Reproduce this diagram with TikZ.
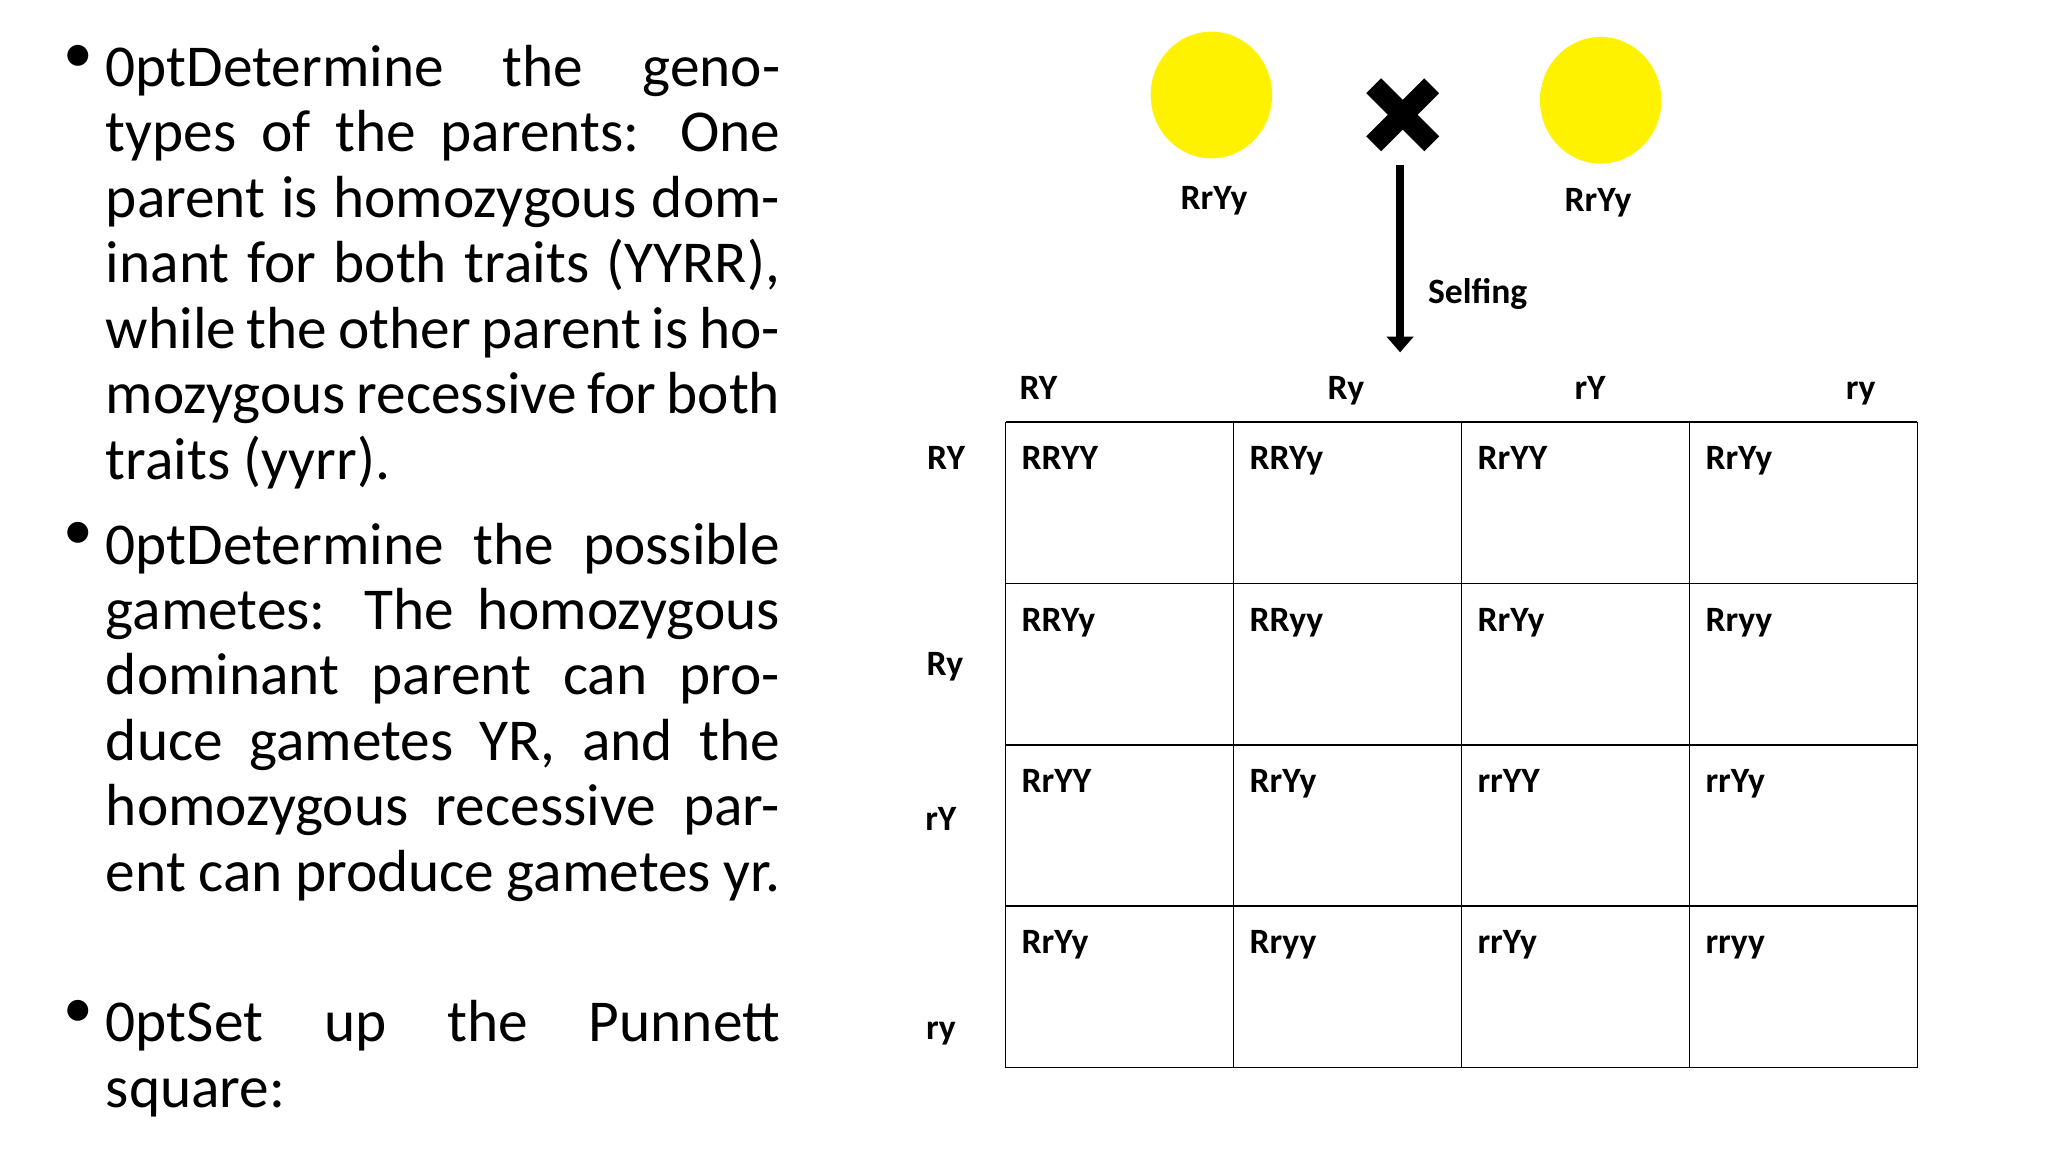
\documentclass[tikz,border=0pt]{standalone}
\usepackage{fontspec}
\setmainfont{Carlito}
\usetikzlibrary{shapes.geometric,arrows.meta}
\begin{document}
\begin{tikzpicture}[x=1pt,y=-1pt,
  body/.style={anchor=north west,inner sep=0pt,text width=511pt,align=justify,font=\fontsize{45}{49.6}\selectfont\hyphenpenalty=10000\exhyphenpenalty=10000\tolerance=9999\emergencystretch=200pt},
  bul/.style={anchor=north west,inner sep=0pt,font=\fontsize{45}{49.6}\selectfont},
  lab/.style={font=\fontsize{27}{30}\selectfont\bfseries,inner sep=0pt,anchor=base},
  cell/.style={lab,anchor=base west}]
\useasboundingbox[fill=white] (0,0) rectangle (1552,873);
% text
\node[body] (p1) at (80,34) {Determine the genotypes of the parents: One parent is homozygous dominant for both traits (YYRR), while the other parent is homozygous recessive for both traits (yyrr).};
\node[bul] (b1) at (48,34) {•};
\node[body] (p2) at (80,396) {Determine the possible gametes: The homozygous dominant parent can produce gametes YR, and the homozygous recessive parent can produce gametes yr.};
\node[bul] (b2) at (48,396) {•};
\node[body] (p3) at (80,758) {Set up the Punnett square:};
\node[bul] (b3) at (48,758) {•};
% parents
\node[fill=yellow,ellipse,minimum width=92pt,minimum height=96pt,inner sep=0pt] (c1) at (918,72) {};
\node[fill=yellow,ellipse,minimum width=92pt,minimum height=96pt,inner sep=0pt] (c2) at (1213,76) {};
\node[lab] (g1) at (920,159) {RrYy};
\node[lab] (g2) at (1211,160) {RrYy};
\coordinate (x) at (1063,87);
\draw[line width=16pt,draw=black] ([shift={(-22,-22)}]x) -- ([shift={(22,22)}]x) ([shift={(22,-22)}]x) -- ([shift={(-22,22)}]x);
\coordinate (a1) at (1061,125);
\coordinate (a2) at (1061,267);
\draw[line width=6pt,-{Triangle[width=20pt,length=12pt]}] (a1) -- (a2);
\node[lab,anchor=base west] (s) at (1082,230) {Selfing};
% grid
\foreach \i in {0,...,4}{
  \draw[line width=1.3pt] (762+\i*172.75,320) -- (762+\i*172.75,809);
  \draw[line width=1.3pt] (762,320+\i*122.25) -- (1453,320+\i*122.25);
}
\node[lab] (cRY) at (787,303) {RY};
\node[lab] (cRy) at (1020,303) {Ry};
\node[lab] (crY) at (1205,303) {rY};
\node[lab] (cry) at (1410,303) {ry};
\node[lab] (rRY) at (717,356) {RY};
\node[lab] (rRy) at (716,512) {Ry};
\node[lab] (rrY) at (713,629) {rY};
\node[lab] (rry) at (713,788) {ry};
\foreach \r/\row in {0/{RRYY,RRYy,RrYY,RrYy},1/{RRYy,RRyy,RrYy,Rryy},2/{RrYY,RrYy,rrYY,rrYy},3/{RrYy,Rryy,rrYy,rryy}}{
  \foreach \t [count=\c from 0] in \row {
    \node[cell] (k\r\c) at (774+\c*172.75, 356+\r*122.25) {\t};
  }
}
\end{tikzpicture}
\end{document}
